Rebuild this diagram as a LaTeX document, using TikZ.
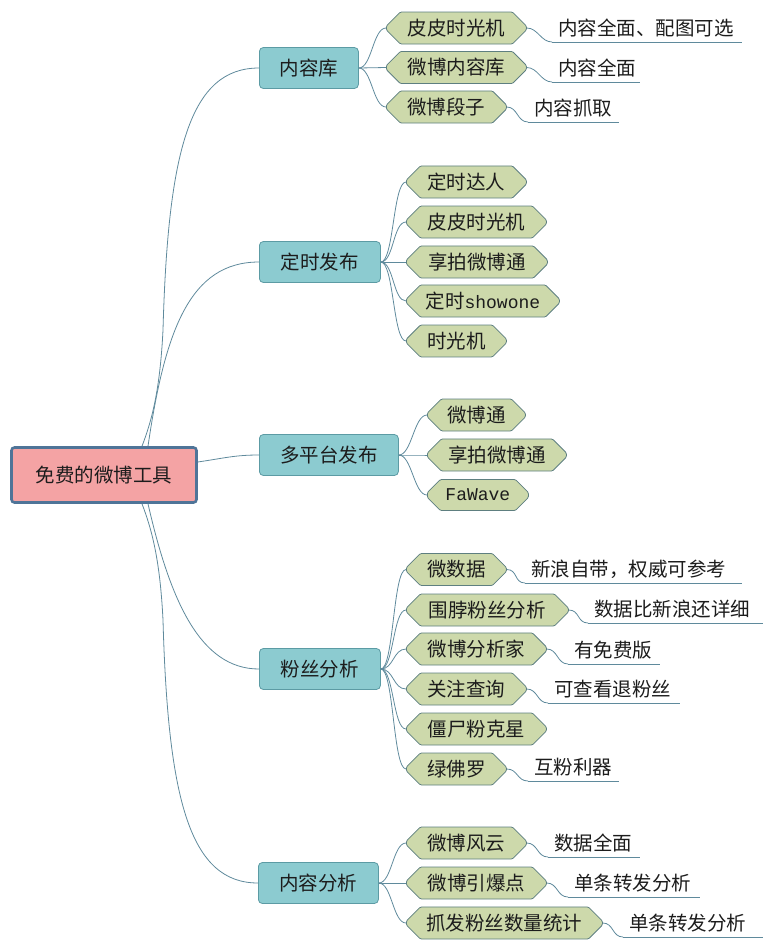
\documentclass[tikz,border=0pt]{standalone}
\usepackage{fontspec}
\setmainfont{Noto Sans CJK SC}
\newfontfamily\latinmono{Liberation Mono}
\usetikzlibrary{shapes.misc}
\definecolor{rootfill}{HTML}{F4A3A4}
\definecolor{rootdraw}{HTML}{4F7498}
\definecolor{lonefill}{HTML}{8CCBD0}
\definecolor{lonedraw}{HTML}{5C9BA4}
\definecolor{ltwofill}{HTML}{CDD9AB}
\definecolor{ltwodraw}{HTML}{5E7F80}
\definecolor{linkc}{HTML}{5F8A9C}
\definecolor{txt}{HTML}{1C1C1C}
\newcommand{\latn}[1]{{\latinmono\fontsize{18}{22}\selectfont #1}}
\begin{document}
\begin{tikzpicture}[x=1pt,y=-1pt,
  every node/.style={font=\fontsize{19.5}{22}\selectfont, text=txt},
  rootbox/.style={draw=rootdraw, fill=rootfill, line width=2.6pt, rounded corners=3pt, minimum width=185pt, minimum height=55pt, inner sep=0pt},
  lonebox/.style={draw=lonedraw, fill=lonefill, line width=0.8pt, rounded corners=4pt, minimum height=41pt, inner sep=0pt, anchor=west},
  ltwobox/.style={chamfered rectangle, chamfered rectangle xsep=7pt, chamfered rectangle ysep=7pt, rounded corners=1.2pt, draw=ltwodraw, fill=ltwofill, line width=0.8pt, minimum height=31pt, inner sep=0pt, anchor=west},
  leafbox/.style={anchor=south west, inner xsep=6pt, inner ysep=0pt, minimum height=28pt, text width=#1, align=left},
  link/.style={draw=linkc, line width=0.8pt},
  branch/.style={link, out=0, in=180, distance=13pt},
  twig/.style={link, out=0, in=180, distance=11pt}
]
\useasboundingbox (0,0) rectangle (772,951);

% root
\node[rootbox] (r) at (104,475) {免费的微博工具};

% level 1
\node[lonebox, minimum width=99pt]  (c1) at (259,68)  {内容库};
\node[lonebox, minimum width=121pt] (c2) at (259,262) {定时发布};
\node[lonebox, minimum width=139pt] (c3) at (259,455) {多平台发布};
\node[lonebox, minimum width=121pt] (c4) at (259,669) {粉丝分析};
\node[lonebox, minimum width=120pt] (c5) at (258,883) {内容分析};

% root connectors
\draw[link] ([xshift=38pt]r.north) .. controls (152,420) and (160,390) .. (163,330) .. controls (168,150) and (190,68) .. (c1.west);
\draw[link] ([xshift=44pt]r.north) .. controls (165,330) and (190,262) .. (c2.west);
\draw[link] ([yshift=13pt]r.east) .. controls (225,458) and (235,455) .. (c3.west);
\draw[link] ([xshift=44pt]r.south) .. controls (170,600) and (200,669) .. (c4.west);
\draw[link] ([xshift=38pt]r.south) .. controls (152,530) and (160,560) .. (163,620) .. controls (168,800) and (190,883) .. (c5.west);

% level 2 : 内容库
\node[ltwobox, minimum width=140pt] (a1) at (386,28)   {皮皮时光机};
\node[ltwobox, minimum width=140pt] (a2) at (386,67.5) {微博内容库};
\node[ltwobox, minimum width=120pt] (a3) at (386,107)  {微博段子};
% 定时发布
\node[ltwobox, minimum width=120pt] (b1) at (406,182) {定时达人};
\node[ltwobox, minimum width=140pt] (b2) at (406,222) {皮皮时光机};
\node[ltwobox, minimum width=141pt] (b3) at (406,262) {享拍微博通};
\node[ltwobox, minimum width=153pt] (b4) at (406,301) {定时\latn{showone}};
\node[ltwobox, minimum width=100pt] (b5) at (406,341) {时光机};
% 多平台发布
\node[ltwobox, minimum width=98pt]  (d1) at (427,415) {微博通};
\node[ltwobox, minimum width=139pt] (d2) at (427,455) {享拍微博通};
\node[ltwobox, minimum width=101pt] (d3) at (427,495) {\latn{FaWave}};
% 粉丝分析
\node[ltwobox, minimum width=100pt] (e1) at (406,569.5) {微数据};
\node[ltwobox, minimum width=162pt] (e2) at (406,610) {围脖粉丝分析};
\node[ltwobox, minimum width=140pt] (e3) at (406,649) {微博分析家};
\node[ltwobox, minimum width=120pt] (e4) at (406,689) {关注查询};
\node[ltwobox, minimum width=140pt] (e5) at (406,729) {僵尸粉克星};
\node[ltwobox, minimum width=100pt] (e6) at (406,769) {绿佛罗};
% 内容分析
\node[ltwobox, minimum width=120pt] (f1) at (406,843) {微博风云};
\node[ltwobox, minimum width=140pt] (f2) at (406,883) {微博引爆点};
\node[ltwobox, minimum width=196pt] (f3) at (406,923) {抓发粉丝数量统计};

% level1 -> level2
\foreach \k in {a1,a2,a3} \draw[branch] (c1.east) to (\k.west);
\foreach \k in {b1,b2,b3,b4,b5} \draw[branch] (c2.east) to (\k.west);
\foreach \k in {d1,d2,d3} \draw[branch] (c3.east) to (\k.west);
\foreach \k in {e1,e2,e3,e4,e5,e6} \draw[branch] (c4.east) to (\k.west);
\foreach \k in {f1,f2,f3} \draw[branch] (c5.east) to (\k.west);

% leaves
\node[leafbox=178pt] (la1) at (552,42)  {内容全面、配图可选};
\node[leafbox=76pt]  (la2) at (552,82)  {内容全面};
\node[leafbox=79pt]  (la3) at (528,122) {内容抓取};
\node[leafbox=205pt] (le1) at (525,583) {新浪自带，权威可参考};
\node[leafbox=163pt] (le2) at (588,623) {数据比新浪还详细};
\node[leafbox=80pt]  (le3) at (568,664) {有免费版};
\node[leafbox=120pt] (le4) at (548,703) {可查看退粉丝};
\node[leafbox=79pt]  (le6) at (528,781) {互粉利器};
\node[leafbox=80pt]  (lf1) at (548,857) {数据全面};
\node[leafbox=120pt] (lf2) at (568,897) {单条转发分析};
\node[leafbox=128pt] (lf3) at (623,937) {单条转发分析};

\foreach \k in {la1,la2,la3,le1,le2,le3,le4,le6,lf1,lf2,lf3}
  \draw[link] (\k.south west) -- (\k.south east);

\draw[twig] (a1.east) to (la1.south west);
\draw[twig] (a2.east) to (la2.south west);
\draw[twig] (a3.east) to (la3.south west);
\draw[twig] (e1.east) to (le1.south west);
\draw[twig] (e2.east) to (le2.south west);
\draw[twig] (e3.east) to (le3.south west);
\draw[twig] (e4.east) to (le4.south west);
\draw[twig] (e6.east) to (le6.south west);
\draw[twig] (f1.east) to (lf1.south west);
\draw[twig] (f2.east) to (lf2.south west);
\draw[twig] (f3.east) to (lf3.south west);
\end{tikzpicture}
\end{document}
